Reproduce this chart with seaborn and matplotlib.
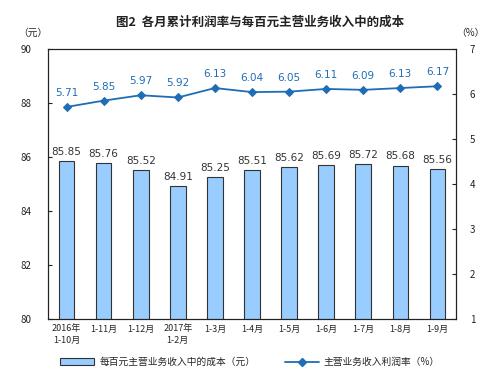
import matplotlib
matplotlib.use('Agg')
import matplotlib.pyplot as plt
import seaborn as sns
import pandas as pd
from matplotlib.lines import Line2D
from matplotlib.patches import Patch

# data
months = ['2016年\n1-10月', '1-11月', '1-12月', '2017年\n1-2月', '1-3月', '1-4月',
          '1-5月', '1-6月', '1-7月', '1-8月', '1-9月']
cost = [85.85, 85.76, 85.52, 84.91, 85.25, 85.51, 85.62, 85.69, 85.72, 85.68, 85.56]
margin = [5.71, 5.85, 5.97, 5.92, 6.13, 6.04, 6.05, 6.11, 6.09, 6.13, 6.17]

sns.set_style('white')
plt.rcParams['font.family'] = ['Noto Sans CJK SC', 'DejaVu Sans']

df = pd.DataFrame({'month': months, 'cost': cost, 'margin': margin})
df['pos'] = range(len(df))

fig = plt.figure(figsize=(5, 3.88), dpi=100)
ax = fig.add_axes([0.096, 0.178, 0.816, 0.696])

bar_color = '#99CCFF'
line_color = '#1F6DB5'

sns.barplot(data=df, x='month', y='cost', color=bar_color, width=0.42,
            edgecolor='#333333', linewidth=0.8, saturation=1, ax=ax)
ax.set_ylim(80, 90)
ax.set_yticks(range(80, 91, 2))
ax.set_xlabel('')
ax.set_ylabel('')
for i, v in enumerate(cost):
    ax.text(i, v + 0.15, f'{v:.2f}', ha='center', va='bottom', fontsize=7.5,
            color='#333333', family='DejaVu Sans')

ax2 = ax.twinx()
sns.lineplot(data=df, x='pos', y='margin', color=line_color, marker='D',
             markersize=4, linewidth=1.3, markeredgecolor=line_color, ax=ax2)
ax2.set_ylim(1, 7)
ax2.set_yticks(range(1, 8))
ax2.set_ylabel('')
ax2.set_xlabel('')
ax2.set_xlim(-0.5, len(months) - 0.5)
ax.set_xlim(-0.5, len(months) - 0.5)
for i, v in enumerate(margin):
    ax2.text(i, v + 0.2, f'{v:.2f}', ha='center', va='bottom', fontsize=7.5,
             color=line_color, family='DejaVu Sans')

for a in (ax, ax2):
    for s in a.spines.values():
        s.set_color('#222222')
        s.set_linewidth(0.8)
ax.tick_params(axis='y', direction='in', length=3, labelsize=7, colors='#222222', pad=12)
ax2.tick_params(axis='y', direction='in', length=3, labelsize=7, colors='#222222', pad=10)
ax.set_xticks(range(len(months)))
ax.set_xticklabels(months, fontsize=6.5, linespacing=1.4)
ax.tick_params(axis='x', length=0, pad=4)
ax.set_xticks([i + 0.5 for i in range(len(months) - 1)], minor=True)
ax.tick_params(axis='x', which='minor', direction='in', length=3, color='#222222')
ax.grid(False)
ax2.grid(False)

fig.text(0.52, 0.943, '图2  各月累计利润率与每百元主营业务收入中的成本', ha='center',
         va='center', fontsize=9, fontweight='bold', color='#222222')
fig.text(0.065, 0.915, '（元）', ha='center', va='center', fontsize=7, color='#222222')
fig.text(0.94, 0.915, '（%）', ha='center', va='center', fontsize=7, color='#222222')

handles = [Patch(facecolor=bar_color, edgecolor='#333333', linewidth=0.8),
           Line2D([0], [0], color=line_color, marker='D', markersize=4, linewidth=1.3)]
labels = ['每百元主营业务收入中的成本（元）', '主营业务收入利润率（%）']
fig.legend(handles, labels, loc='center', bbox_to_anchor=(0.5, 0.067), ncol=2,
           frameon=False, fontsize=7, handlelength=3.5, columnspacing=3,
           handletextpad=0.5)

fig.savefig('out.png', dpi=100)
